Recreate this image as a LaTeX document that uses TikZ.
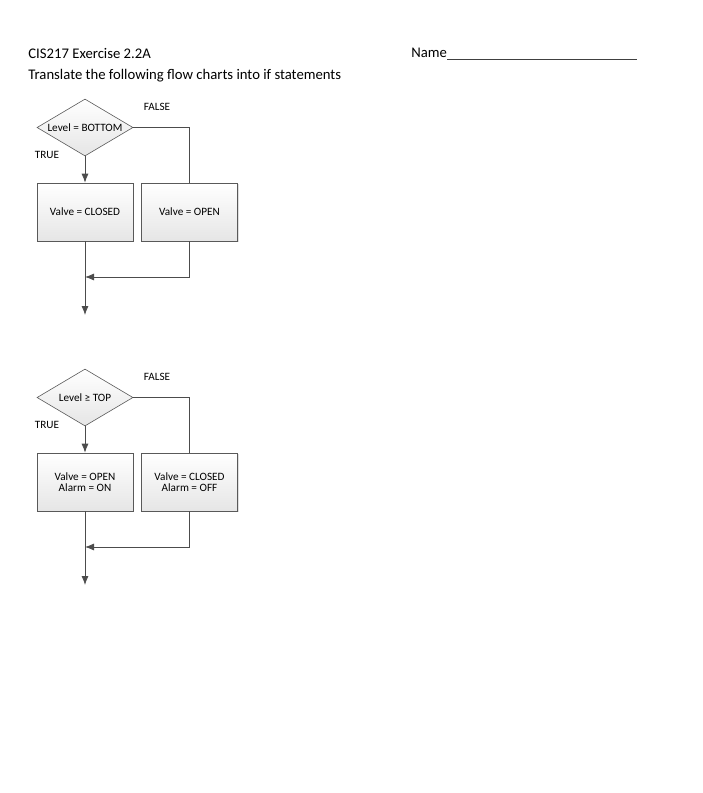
\documentclass[tikz,border=0pt]{standalone}
\usepackage{fontspec}
\setmainfont{Carlito}
\usetikzlibrary{arrows.meta,shapes.geometric,shadows}

\begin{document}
\begin{tikzpicture}[x=1pt,y=-1pt,>={Latex[length=9pt,width=7pt]},
  line width=0.8pt,
  flowline/.style={draw=black!70},
  decision/.style={shape=diamond,draw=black!65,line width=0.6pt,
    top color=white,bottom color=black!10,aspect=1.7,
    minimum width=96pt,minimum height=57pt,inner sep=0pt,
    font=\fontsize{11.2}{12}\selectfont},
  process/.style={shape=rectangle,draw=black!65,line width=0.6pt,
    top color=white,bottom color=black!10,
    drop shadow={shadow xshift=1pt,shadow yshift=-1pt,opacity=0.25},
    minimum width=96pt,minimum height=58pt,inner sep=1pt,align=center,
    font=\fontsize{11.2}{11}\selectfont},
  branch/.style={font=\fontsize{11.2}{12}\selectfont}]
\path[use as bounding box] (0,0) rectangle (703,793);

% heading
\node[anchor=base west,inner sep=0pt,font=\fontsize{14.7}{16}\selectfont] (title) at (28,58) {CIS217 Exercise 2.2A};
\node[anchor=base west,inner sep=0pt,font=\fontsize{14.7}{16}\selectfont] (task) at (28,79) {Translate the following flow charts into if statements};
\node[anchor=base west,inner sep=0pt,font=\fontsize{14.7}{16}\selectfont] (name) at (411,57) {Name};
\coordinate (blank) at (637,59);
\draw[line width=0.6pt,black!75] (name.base east) ++(0,2) -- (blank);

% first chart
\node[decision] (dec1) at (85,127.5) {Level = BOTTOM};
\node[process] (yes1) at (85,212) {Valve = CLOSED};
\node[process] (no1) at (189.5,212) {Valve = OPEN};
\node[branch] (true1) at (47,155) {TRUE};
\node[branch] (false1) at (157,107) {FALSE};
\coordinate (join1) at (85,277);
\coordinate (end1) at (85,315);

\draw[flowline,->] (dec1.south) -- (yes1.north);
\draw[flowline] (dec1.east) -| (no1.north);
\draw[flowline,->] (no1.south) |- (join1);
\draw[flowline,->] (yes1.south) -- (end1);

% second chart
\node[decision] (dec2) at (85,397.5) {Level ≥ TOP};
\node[process] (yes2) at (85,482) {Valve = OPEN\\Alarm = ON};
\node[process] (no2) at (189.5,482) {Valve = CLOSED\\Alarm = OFF};
\node[branch] (true2) at (47,425) {TRUE};
\node[branch] (false2) at (157,377) {FALSE};
\coordinate (join2) at (85,547);
\coordinate (end2) at (85,585);

\draw[flowline,->] (dec2.south) -- (yes2.north);
\draw[flowline] (dec2.east) -| (no2.north);
\draw[flowline,->] (no2.south) |- (join2);
\draw[flowline,->] (yes2.south) -- (end2);
\end{tikzpicture}
\end{document}
